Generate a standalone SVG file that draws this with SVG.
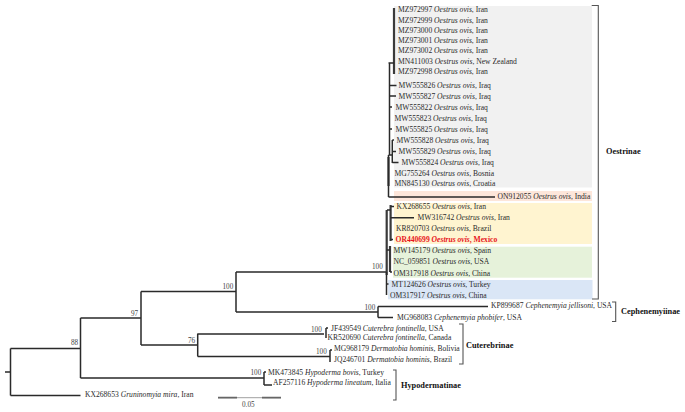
<svg xmlns="http://www.w3.org/2000/svg" width="685" height="412" viewBox="0 0 685 412">
<style>
text{font-family:"Liberation Serif","Times New Roman",serif;font-size:7.6px;fill:#2a2a2a}
.i{font-style:italic}
.b{font-weight:bold;font-size:8.3px;fill:#111}
.s{font-size:7.2px;fill:#444}
.r{fill:#e8141c;font-weight:bold}
.l{fill:none;stroke:#2a2a2a;stroke-width:1.5}
.t{fill:none;stroke:#3a3a3a;stroke-width:2.2}
.k{fill:none;stroke:#555;stroke-width:1.1}
</style>
<rect width="685" height="412" fill="#fff"/>
<g id="bands">
<rect x="394" y="6" width="198" height="181.5" fill="#f1f1f1"/>
<rect x="394" y="191" width="198" height="10" fill="#fde6da"/>
<rect x="394" y="203" width="198" height="41" fill="#fff4d0"/>
<rect x="393" y="246.700" width="199" height="31" fill="#e6f2da"/>
<rect x="388" y="280" width="204.500" height="19.300" fill="#dae6f6"/>
</g>
<g id="connectors">
<path class="l" d="M5 372H10.500M10.500 348.500V395.500M10.500 348.500H80.500M10.500 395.500H80.500M80.500 318V378M80.500 318H141M80.500 378H264M141 291.500V345M141 291.500H236M141 345H197.700M197.700 333.500V356.500M197.700 334H324M197.700 356.500H330"/>
<path class="l" d="M236 272V312M236 272H386.500M236 312H378M378 306.500V317.500M378 306.500H488M378 317.500H393"/>
<path class="l" d="M326 328V338M326 328H328M330 350V362M330 350H332M264 372V385M264 372H266M264 385H272"/>
<path class="t" d="M386.700 210V275M390.600 205V241M390 246V272M394 8V74M388.500 157V186"/>
<path class="l" d="M386.500 272V295M386.500 284H388.500M389.500 63V155M388.500 155V197M388.500 63H394M388.500 197H495M389.500 85.500H396.500M389.500 96H396M389.500 107H392M389.500 129H392M388.500 155H392.300M392.300 140V163M392.300 140H394M392.300 151.500H396M392.300 162.500H398.500M387 210H390.600M390.600 206.500H394M390.600 217.700H414M390.600 239.500H393M390 272H392M386.700 250H390"/>
<path d="M218 397.700H281" stroke="#888" stroke-width="0.8" fill="none"/>
<path d="M218 397.700H237M262 397.700H281" stroke="#666" stroke-width="1.800" fill="none"/>
<path class="k" d="M591.700 5.500H598.300V299H592M612 302H615.700V321.500H612M459 324H463V364H459M393 370H396V400H393"/>
</g>
<g id="leaves">
<g id="t1"><text x="398" y="12">MZ972997 <tspan class="i">Oestrus ovis</tspan>, Iran</text></g>
<g id="t2"><text x="398" y="22.500">MZ972999 <tspan class="i">Oestrus ovis</tspan>, Iran</text></g>
<g id="t3"><text x="398" y="32.500">MZ973000 <tspan class="i">Oestrus ovis</tspan>, Iran</text></g>
<g id="t4"><text x="398" y="42.500">MZ973001 <tspan class="i">Oestrus ovis</tspan>, Iran</text></g>
<g id="t5"><text x="398" y="53">MZ973002 <tspan class="i">Oestrus ovis</tspan>, Iran</text></g>
<g id="t6"><text x="398" y="63.500">MN411003 <tspan class="i">Oestrus ovis</tspan>, New Zealand</text></g>
<g id="t7"><text x="398" y="73.500">MZ972998 <tspan class="i">Oestrus ovis</tspan>, Iran</text></g>
<g id="t8"><text x="398.500" y="88">MW555826 <tspan class="i">Oestrus ovis</tspan>, Iraq</text></g>
<g id="t9"><text x="398.500" y="98.500">MW555827 <tspan class="i">Oestrus ovis</tspan>, Iraq</text></g>
<g id="t10"><text x="395.500" y="109.500">MW555822 <tspan class="i">Oestrus ovis</tspan>, Iraq</text></g>
<g id="t11"><text x="394.500" y="120.500">MW555823 <tspan class="i">Oestrus ovis</tspan>, Iraq</text></g>
<g id="t12"><text x="395.500" y="131.500">MW555825 <tspan class="i">Oestrus ovis</tspan>, Iraq</text></g>
<g id="t13"><text x="396.500" y="142.500">MW555828 <tspan class="i">Oestrus ovis</tspan>, Iraq</text></g>
<g id="t14"><text x="398.500" y="154">MW555829 <tspan class="i">Oestrus ovis</tspan>, Iraq</text></g>
<g id="t15"><text x="401.500" y="164.500">MW555824 <tspan class="i">Oestrus ovis</tspan>, Iraq</text></g>
<g id="t16"><text x="394.500" y="175.500">MG755264 <tspan class="i">Oestrus ovis</tspan>, Bosnia</text></g>
<g id="t17"><text x="394.500" y="186">MN845130 <tspan class="i">Oestrus ovis</tspan>, Croatia</text></g>
<g id="t18"><text x="497.500" y="198.500">ON912055 <tspan class="i">Oestrus ovis</tspan>, India</text></g>
<g id="t19"><text x="396.500" y="209">KX268655 <tspan class="i">Oestrus ovis</tspan>, Iran</text></g>
<g id="t20"><text x="417.500" y="220">MW316742 <tspan class="i">Oestrus ovis</tspan>, Iran</text></g>
<g id="t21"><text x="396" y="231">KR820703 <tspan class="i">Oestrus ovis</tspan>, Brazil</text></g>
<g id="t22"><text class="r" x="395.500" y="242">OR440699 <tspan class="i r">Oestrus ovis</tspan>, Mexico</text></g>
<g id="t23"><text x="393.500" y="253">MW145179 <tspan class="i">Oestrus ovis</tspan>, Spain</text></g>
<g id="t24"><text x="393.500" y="263.500">NC_059851 <tspan class="i">Oestrus ovis</tspan>, USA</text></g>
<g id="t25"><text x="393.500" y="275.500">OM317918 <tspan class="i">Oestrus ovis</tspan>, China</text></g>
<g id="t26"><text x="391.500" y="286.500">MT124626 <tspan class="i">Oestrus ovis</tspan>, Turkey</text></g>
<g id="t27"><text x="390" y="297.500">OM317917 <tspan class="i">Oestrus ovis</tspan>, China</text></g>
<g id="t28"><text x="491" y="307.500">KP899687 <tspan class="i">Cephenemyia jellisoni</tspan>, USA</text></g>
<g id="t29"><text x="397" y="319.500">MG968083 <tspan class="i">Cephenemyia phobifer</tspan>, USA</text></g>
<g id="t30"><text x="331" y="330.500">JF439549 <tspan class="i">Cuterebra fontinella</tspan>, USA</text></g>
<g id="t31"><text x="327.500" y="340">KR520690 <tspan class="i">Cuterebra fontinella</tspan>, Canada</text></g>
<g id="t32"><text x="334" y="350.500">MG968179 <tspan class="i">Dermatobia hominis</tspan>, Bolivia</text></g>
<g id="t33"><text x="334" y="361.500">JQ246701 <tspan class="i">Dermatobia hominis</tspan>, Brazil</text></g>
<g id="t34"><text x="268" y="374.500">MK473845 <tspan class="i">Hypoderma bovis</tspan>, Turkey</text></g>
<g id="t35"><text x="273" y="385">AF257116 <tspan class="i">Hypoderma lineatum</tspan>, Italia</text></g>
<g id="t36"><text x="85" y="396.500">KX268653 <tspan class="i">Gruninomyia mira</tspan>, Iran</text></g>
</g>
<g id="support">
<text class="s" x="372" y="268.500">100</text>
<text class="s" x="222.500" y="289">100</text>
<text class="s" x="364.500" y="309.500">100</text>
<text class="s" x="131" y="315.500">97</text>
<text class="s" x="188" y="342.500">76</text>
<text class="s" x="71" y="345">88</text>
<text class="s" x="311" y="331.500">100</text>
<text class="s" x="316" y="353.500">100</text>
<text class="s" x="250.500" y="374.500">100</text>
<text class="s" x="242" y="406.500">0.05</text>
</g>
<g id="clades">
<text class="b" x="606" y="154">Oestrinae</text>
<text class="b" x="621" y="314">Cephenemyiinae</text>
<text class="b" x="466" y="348">Cuterebrinae</text>
<text class="b" x="401" y="388">Hypodermatinae</text>
</g>
</svg>
